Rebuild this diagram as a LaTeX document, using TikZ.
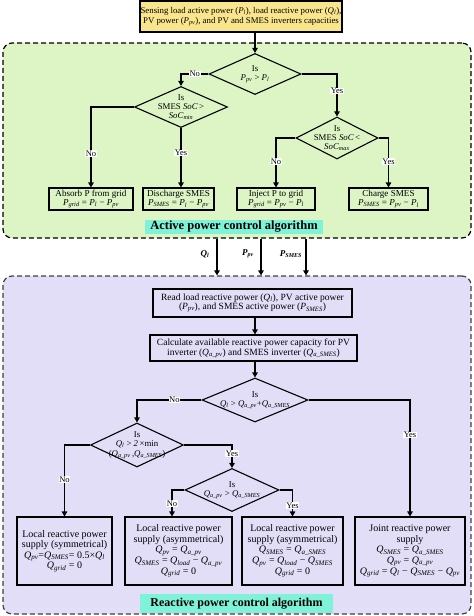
\documentclass[tikz,border=0pt]{standalone}
\usepackage{fontspec}
\setmainfont{Liberation Serif}
\usetikzlibrary{shapes.geometric,arrows.meta,calc}
\newcommand\mv[2]{\textit{#1}\textsubscript{\textit{#2}}}
\definecolor{agreen}{HTML}{DDF5C5}
\definecolor{rpurple}{HTML}{E3DEF7}
\definecolor{ytop}{HTML}{F8E58C}
\definecolor{cyanlab}{HTML}{80F2D8}
\begin{document}
\begin{tikzpicture}[x=1pt,y=-1pt,
 box/.style={draw, line width=1.1pt, align=center, inner sep=0pt, font=\fontsize{9.5}{9.8}\selectfont},
 abox/.style={box, font=\fontsize{9.1}{9.6}\selectfont},
 rbox/.style={box, font=\fontsize{10}{10.6}\selectfont},
 dia/.style={draw, shape=diamond, line width=1.1pt, inner sep=0pt},
 dtext/.style={align=center, font=\fontsize{8.8}{9.3}\selectfont, inner sep=0pt},
 yn/.style={fill=white, inner sep=0.6pt, font=\fontsize{8.5}{8.5}\selectfont},
 arr/.style={line width=1.1pt, -{Triangle[length=5pt,width=5.5pt]}},
 region/.style={draw, dash pattern=on 5pt off 3pt, line width=1.2pt, rounded corners=9pt, inner sep=0pt},
 titlebox/.style={fill=cyanlab, inner sep=0pt},
 flowlab/.style={font=\fontsize{9}{9}\selectfont\bfseries\itshape, inner sep=0pt}
]
\useasboundingbox (0,0) rectangle (474,616);
% regions
\node[region, fill=agreen, minimum width=468, minimum height=195] (act) at (237,140.5) {};
\node[region, draw=black!75, fill=rpurple, minimum width=468, minimum height=338] (rea) at (237,445) {};
\node[titlebox, font=\fontsize{12.5}{13}\selectfont\bfseries, minimum width=178, minimum height=14] (actt) at (234,227) {Active power control algorithm};
\node[titlebox, font=\fontsize{12}{13}\selectfont\bfseries, minimum width=193, minimum height=19] (reat) at (236.5,603.5) {Reactive power control algorithm};
% top
\node[box, font=\fontsize{8.8}{9.6}\selectfont, fill=ytop, minimum width=202, minimum height=31] (top) at (241,16.5) {Sensing load active power (\mv{P}{l}), load reactive power (\mv{Q}{l}),\\ PV power (\mv{P}{pv}), and PV and SMES inverters capacities};
% active part
\node[dia, minimum width=92, minimum height=41, label={[dtext]center:{Is\\\mv{P}{pv} > \mv{P}{l}}}] (d1) at (255,74) {};
\node[dia, minimum width=93, minimum height=41, label={[dtext]center:{Is\\SMES \textit{SoC}\,>\\\mv{SoC}{min}}}] (d2) at (181,107) {};
\node[dia, minimum width=82, minimum height=42, label={[dtext]center:{Is\\SMES \textit{SoC}\,<\\\mv{SoC}{max}}}] (d3) at (337,138) {};
\node[abox, minimum width=84, minimum height=22] (b1) at (91,199) {Absorb P from grid\\\mv{P}{grid} = \mv{P}{l} − \mv{P}{pv}};
\node[abox, minimum width=71, minimum height=22] (b2) at (178.5,199) {Discharge SMES\\\mv{P}{SMES} = \mv{P}{l} − \mv{P}{pv}};
\node[abox, minimum width=78, minimum height=22] (b3) at (276,199) {Inject P to grid\\\mv{P}{grid} = \mv{P}{pv} − \mv{P}{l}};
\node[abox, minimum width=79, minimum height=22] (b4) at (388.5,199) {Charge SMES\\\mv{P}{SMES} = \mv{P}{pv} − \mv{P}{l}};
\draw[arr] (d1.north |- top.south) -- (d1.north);
\draw[arr] (d1.west) -| node[yn, pos=0.25]{No} (d2.north);
\draw[arr] (d1.east) -| node[yn, pos=0.7]{Yes} (d3.north);
\draw[arr] (d2.west) -| node[yn, pos=0.79]{No} (b1.north);
\draw[arr] (d2.south) -- node[yn, pos=0.42]{Yes} (d2.south |- b2.north);
\draw[arr] (d3.west) -| node[yn, pos=0.74]{No} (b3.north);
\draw[arr] (d3.east) -| node[yn, pos=0.74]{Yes} (b4.north);
% links between regions
\coordinate (c1) at (217,257);
\coordinate (c2) at (261,257);
\coordinate (c3) at (306,257);
\draw[arr] (c1 |- act.south) -- (c1 |- rea.north);
\draw[arr] (c2 |- act.south) -- (c2 |- rea.north);
\draw[arr] (c3 |- act.south) -- (c3 |- rea.north);
\node[flowlab] (l1) at (205,254) {\mv{Q}{l}};
\node[flowlab] (l2) at (248,254) {\mv{P}{pv}};
\node[flowlab] (l3) at (291,254) {\mv{P}{SMES}};
% reactive part
\node[box, minimum width=199, minimum height=28] (r1) at (252.5,303) {Read load reactive power (\mv{Q}{l}), PV active power\\(\mv{P}{pv}), and SMES active power (\mv{P}{SMES})};
\node[box, minimum width=207, minimum height=26] (r2) at (253.5,348) {Calculate available reactive power capacity for PV\\inverter (\mv{Q}{a\_pv}) and SMES inverter (\mv{Q}{a\_SMES})};
\node[dia, minimum width=106, minimum height=44, label={[dtext]center:{Is\\\mv{Q}{l} > \mv{Q}{a\_pv}+\mv{Q}{a\_SMES}}}] (rd1) at (255,400) {};
\node[dia, minimum width=93, minimum height=44, label={[dtext]center:{Is\\\mv{Q}{l} > \textit{2}\,×min\\(\mv{Q}{a\_pv}\,,\mv{Q}{a\_SMES})}}] (rd2) at (137,445) {};
\node[dia, minimum width=94, minimum height=43, label={[dtext]center:{Is\\\mv{Q}{a\_pv} > \mv{Q}{a\_SMES}}}] (rd3) at (232,490) {};
\node[rbox, minimum width=95, minimum height=68] (rb1) at (64.5,551) {Local reactive power\\supply (symmetrical)\\\mv{Q}{pv}=\mv{Q}{SMES}= 0.5×\mv{Q}{l}\\\mv{Q}{grid} = 0};
\node[rbox, minimum width=107, minimum height=68] (rb2) at (178.5,551) {Local reactive power\\supply (asymmetrical)\\\mv{Q}{pv} = \mv{Q}{a\_pv}\\\mv{Q}{SMES} = \mv{Q}{load} − \mv{Q}{a\_pv}\\\mv{Q}{grid} = 0};
\node[rbox, minimum width=101, minimum height=68] (rb3) at (292.5,551) {Local reactive power\\supply (asymmetrical)\\\mv{Q}{SMES} = \mv{Q}{a\_SMES}\\\mv{Q}{pv} = \mv{Q}{load} − \mv{Q}{SMES}\\\mv{Q}{grid} = 0};
\node[rbox, minimum width=110, minimum height=68] (rb4) at (410,551) {Joint reactive power\\supply\\\mv{Q}{SMES} = \mv{Q}{a\_SMES}\\\mv{Q}{pv} = \mv{Q}{a\_pv}\\\mv{Q}{grid} = \mv{Q}{l} − \mv{Q}{SMES} − \mv{Q}{pv}};
\coordinate (a2) at (172,500);
\draw[arr] (r1.south -| 255,0) -- (r2.north -| 255,0);
\draw[arr] (r2.south -| rd1.north) -- (rd1.north);
\draw[arr] (rd1.west) -| node[yn, pos=0.21]{No} (rd2.north);
\draw[arr] (rd1.east) -| node[yn, pos=0.65]{Yes} (rb4.north);
\draw[arr] (rd2.west) -| node[yn, pos=0.74]{No} (rb1.north);
\draw[arr] (rd2.east) -| node[yn, pos=0.69]{Yes} (rd3.north);
\draw[arr] (rd3.west) -| node[yn, pos=0.76]{No} (a2 |- rb2.north);
\draw[arr] (rd3.east) -| node[yn, pos=0.8]{Yes} (rb3.north);
\end{tikzpicture}
\end{document}
